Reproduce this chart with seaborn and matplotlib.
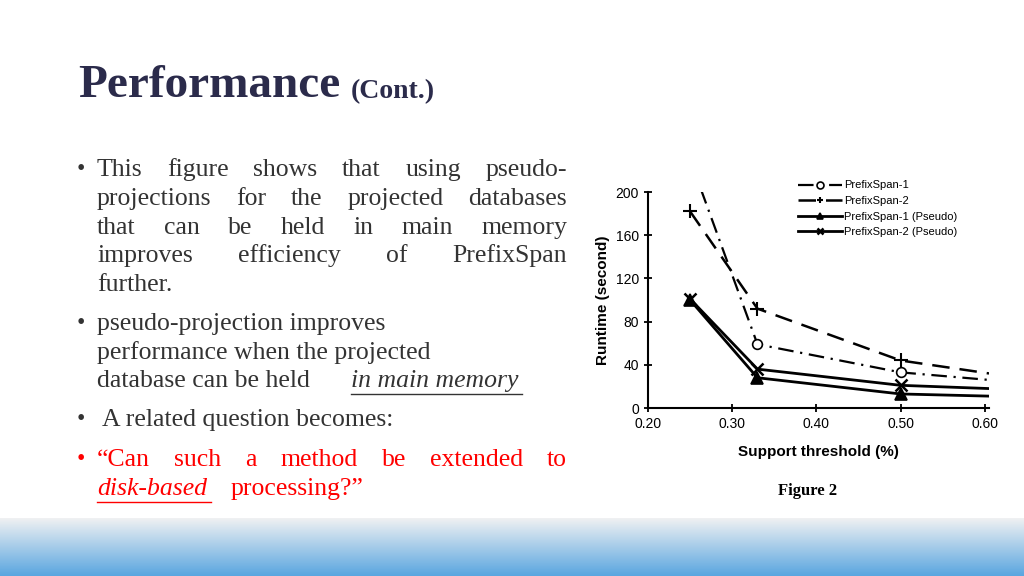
import numpy as np
import pandas as pd
import matplotlib.pyplot as plt
import seaborn as sns

SUPPORT = [0.25, 0.33, 0.50, 0.605]
PS1 = [230, 59, 33, 26]
PS2 = [182, 92, 44, 32]
PS1_PSEUDO = [100, 28, 13, 11]
PS2_PSEUDO = [101, 36, 21, 18]
SERIES = ["PrefixSpan-1", "PrefixSpan-2", "PrefixSpan-1 (Pseudo)", "PrefixSpan-2 (Pseudo)"]
X_TICKS = [0.20, 0.30, 0.40, 0.50, 0.60]
Y_TICKS = [0, 40, 80, 120, 160, 200]

rows = []
for name, vals in zip(SERIES, [PS1, PS2, PS1_PSEUDO, PS2_PSEUDO]):
    for x, y in zip(SUPPORT, vals):
        rows.append({"support": x, "runtime": y, "series": name})
df = pd.DataFrame(rows)

W, H = 1024, 576
fig = plt.figure(figsize=(10.24, 5.76), dpi=100)
renderer = fig.canvas.get_renderer()
serif = "Liberation Serif"
dark = "#333333"
FS = 18.5


def px(y):
    return 1 - y / H


def justified(y, words, color, x0=97, x1=567):
    # draw words spread between x0 and x1 (pixels)
    arts = [fig.text(0, px(y), w, fontsize=FS, family=serif, color=color, va="center") for w in words]
    widths = [a.get_window_extent(renderer).width for a in arts]
    gap = (x1 - x0 - sum(widths)) / max(len(words) - 1, 1)
    x = x0
    for a, w in zip(arts, widths):
        a.set_x(x / W)
        x += w + gap


def plain(y, x, s, color, italic=False, underline=None):
    t = fig.text(x / W, px(y), s, fontsize=FS, family=serif, color=color, va="center",
                 style="italic" if italic else "normal")
    if underline:
        w = t.get_window_extent(renderer).width
        fig.add_artist(plt.Line2D([x / W, (x + w + underline) / W], [px(y + 13)] * 2, color=color, lw=1))
    return t


# title
fig.text(78 / W, px(86), "Performance", fontsize=34, fontweight="bold", family=serif, color="#2b2b4b", va="center")
fig.text(351 / W, px(92), "(Cont.)", fontsize=20, fontweight="bold", family=serif, color="#2b2b4b", va="center")

# bullets
for y, c in [(170, dark), (324, dark), (420, dark), (460, "red")]:
    fig.text(77 / W, px(y), "•", fontsize=17, family=serif, color=c, va="center")
justified(170, "This figure shows that using pseudo-".split(), dark)
justified(199, "projections for the projected databases".split(), dark)
justified(228, "that can be held in main memory".split(), dark)
justified(256, "improves efficiency of PrefixSpan".split(), dark)
plain(285, 97, "further.", dark)
plain(324, 97, "pseudo-projection improves", dark)
plain(353, 97, "performance when the projected", dark)
plain(381, 97, "database can be held", dark)
plain(381, 351, "in main memory", dark, italic=True, underline=4)
plain(420, 102, "A related question becomes:", dark)
justified(460, "“Can such a method be extended to".split(), "red")
plain(489, 97, "disk-based", "red", italic=True, underline=4)
plain(489, 231, "processing?”", "red")
fig.text(808 / W, px(491), "Figure 2", fontsize=12, fontweight="bold", family=serif, color="black",
         va="center", ha="center")

# bottom gradient band
band = fig.add_axes([0, 0, 1, 0.1])
grad = np.linspace(0, 1, 100).reshape(-1, 1)
band.imshow(grad, aspect="auto", cmap=sns.light_palette("#5aa6e0", as_cmap=True), extent=[0, 1, 0, 1])
band.axis("off")

# chart
ax = fig.add_axes([648 / W, px(408), 341 / W, 216 / H])
styles = {
    "PrefixSpan-1": dict(marker="o", ls=(0, (7, 3, 1, 3)), lw=1.6, mfc="white", ms=7),
    "PrefixSpan-2": dict(marker="+", ls=(0, (7, 4)), lw=1.8, ms=10, mew=1.5),
    "PrefixSpan-1 (Pseudo)": dict(marker="^", ls="-", lw=2, ms=8),
    "PrefixSpan-2 (Pseudo)": dict(marker="x", ls="-", lw=2, ms=8, mew=1.8),
}
for name in SERIES:
    st = styles[name]
    sns.lineplot(data=df[df["series"] == name], x="support", y="runtime", ax=ax,
                 color="black", label=name, linestyle=st["ls"], linewidth=st["lw"],
                 marker=st["marker"], markersize=st["ms"], markevery=[0, 1, 2],
                 mfc=st.get("mfc", "black"), mec="black", mew=st.get("mew", 1.2))
ax.set_xlim(0.2, 0.605)
ax.set_ylim(0, 200)
ax.set_xticks(X_TICKS)
ax.set_xticklabels([f"{v:.2f}" for v in X_TICKS], fontsize=10, family="Liberation Sans")
ax.set_yticks(Y_TICKS)
ax.set_yticklabels([str(v) for v in Y_TICKS], fontsize=10, family="Liberation Sans")
ax.set_xlabel("Support threshold (%)", fontsize=11, fontweight="bold", family="Liberation Sans", labelpad=10)
ax.set_ylabel("Runtime (second)", fontsize=11, fontweight="bold", family="Liberation Sans")
for s in ["top", "right"]:
    ax.spines[s].set_visible(False)
ax.spines["left"].set_linewidth(1.5)
ax.spines["bottom"].set_linewidth(1.5)
ax.tick_params(direction="inout", length=6, width=1.3)
leg = ax.legend(loc="upper left", bbox_to_anchor=(0.41, 1.1), frameon=False,
                handlelength=4, labelspacing=0.5, handletextpad=0.2,
                prop={"family": "Liberation Sans", "size": 8})
for h in leg.legend_handles:
    h.set_markersize(5)

fig.savefig("out.png", dpi=100)
